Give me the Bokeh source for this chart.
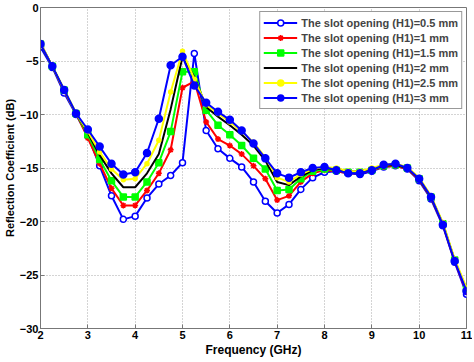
import numpy as np
from bokeh.plotting import figure
from bokeh.models import Range1d, FixedTicker
from bokeh.embed import file_html
from bokeh.resources import INLINE

freq = [2.0, 2.25, 2.5, 2.75, 3.0, 3.25, 3.5, 3.75, 4.0, 4.25, 4.5, 4.75, 5.0, 5.25,
        5.5, 5.75, 6.0, 6.25, 6.5, 6.75, 7.0, 7.25, 7.5, 7.75, 8.0, 8.25, 8.5, 8.75,
        9.0, 9.25, 9.5, 9.75, 10.0, 10.25, 10.5, 10.75, 11.0]

h1_05 = [-3.7, -5.6, -8.0, -10.0, -12.0, -14.8, -17.6, -19.8, -19.5, -17.8, -16.5, -15.7, -14.5, -4.3,
         -11.5, -13.2, -14.1, -14.9, -16.3, -18.1, -19.2, -18.4, -17.0, -15.9, -15.4, -15.3, -15.5, -15.6,
         -15.3, -14.9, -14.8, -15.1, -16.2, -17.9, -20.4, -23.8, -26.8]
h1_10 = [-3.4, -5.5, -7.8, -9.9, -12.2, -14.6, -16.9, -18.5, -18.5, -17.1, -15.5, -13.3, -7.5, -6.9,
         -10.7, -12.3, -12.9, -13.7, -14.8, -16.0, -18.0, -17.6, -16.3, -15.5, -15.2, -15.3, -15.5, -15.5,
         -15.2, -14.9, -14.8, -15.1, -16.1, -17.8, -20.3, -23.7, -26.6]
h1_15 = [-3.4, -5.5, -7.7, -9.9, -11.9, -14.2, -16.2, -17.7, -17.7, -16.3, -14.5, -11.6, -6.0, -6.0,
         -9.6, -11.0, -11.9, -12.9, -14.1, -15.1, -17.1, -17.0, -16.0, -15.3, -15.1, -15.2, -15.4, -15.4,
         -15.2, -14.8, -14.7, -15.0, -16.0, -17.7, -20.2, -23.6, -26.3]
h1_20 = [-3.4, -5.5, -7.7, -9.9, -11.7, -13.8, -15.5, -16.8, -16.8, -15.5, -13.7, -9.5, -4.6, -6.5,
         -9.3, -10.2, -11.0, -11.9, -12.9, -14.3, -16.3, -16.6, -15.8, -15.2, -15.0, -15.1, -15.3, -15.3,
         -15.1, -14.8, -14.7, -15.0, -16.0, -17.7, -20.2, -23.6, -26.4]
h1_25 = [-3.3, -5.5, -7.7, -9.9, -11.6, -13.5, -15.1, -16.1, -16.0, -14.6, -12.4, -7.9, -4.1, -6.7,
         -9.1, -9.9, -10.7, -11.6, -12.6, -14.0, -15.9, -16.3, -15.6, -15.1, -14.9, -15.0, -15.3, -15.3,
         -15.0, -14.7, -14.6, -14.9, -15.9, -17.6, -20.1, -23.5, -26.2]
h1_30 = [-3.4, -5.5, -7.7, -9.9, -11.4, -13.0, -14.6, -15.6, -15.4, -13.6, -10.4, -5.4, -4.6, -7.3,
         -8.9, -9.75, -10.5, -11.5, -12.7, -14.1, -15.5, -15.9, -15.4, -15.0, -14.9, -15.2, -15.5, -15.5,
         -15.2, -14.7, -14.6, -15.0, -16.0, -17.7, -20.3, -23.7, -26.5]

labels = ["The slot opening (H1)=0.5 mm", "The slot opening (H1)=1 mm",
          "The slot opening (H1)=1.5 mm", "The slot opening (H1)=2 mm",
          "The slot opening (H1)=2.5 mm", "The slot opening (H1)=3 mm"]
x_ticks = [2, 3, 4, 5, 6, 7, 8, 9, 10, 11]
y_ticks = [-30, -25, -20, -15, -10, -5, 0]

FONT = "Liberation Sans"

p = figure(width=472, height=359, output_backend="svg", toolbar_location=None,
           x_range=Range1d(2, 11), y_range=Range1d(-30, 0),
           min_border_left=4, min_border_right=6, min_border_top=7, min_border_bottom=2,
           background_fill_color="white", border_fill_color="white")

p.outline_line_color = "#777777"
p.outline_line_width = 1

for ax in (p.xaxis[0], p.yaxis[0]):
    ax.major_label_text_font = FONT
    ax.major_label_text_font_style = "bold"
    ax.major_label_text_font_size = "11px"
    ax.major_label_text_color = "black"
    ax.axis_label_text_font = FONT
    ax.axis_label_text_font_style = "bold"
    ax.axis_label_text_color = "black"
    ax.axis_line_color = "#777777"
    ax.major_tick_line_color = "#777777"
    ax.major_tick_in = 4
    ax.major_tick_out = 0
    ax.minor_tick_line_color = None
    ax.major_label_standoff = 2
    ax.axis_label_standoff = 1

p.xaxis.axis_label_text_font_size = "12px"
p.yaxis.axis_label_text_font_size = "11px"
p.xaxis.ticker = FixedTicker(ticks=x_ticks)
p.yaxis.ticker = FixedTicker(ticks=y_ticks)
p.xaxis.axis_label = "Frequency (GHz)"
p.yaxis.axis_label = "Reflection Coefficient (dB)"

p.grid.grid_line_color = "#a8a8a8"
p.grid.grid_line_dash = "1 2"
p.grid.grid_line_width = 1
p.xgrid.ticker = FixedTicker(ticks=x_ticks)
p.ygrid.ticker = FixedTicker(ticks=y_ticks)

series = [h1_05, h1_10, h1_15, h1_20, h1_25, h1_30]
colors = ["#0000ff", "#ff0000", "#00ff00", "#000000", "#ffff00", "#0000ff"]
markers = ["circle", "asterisk", "square", None, "circle", "circle"]
fills = ["white", "#ff0000", "#00ff00", None, "#ffff00", "#0000ff"]
sizes = [6, 6, 6, 0, 4, 7]

for ys, c, m, fc, s, lab in zip(series, colors, markers, fills, sizes, labels):
    p.line(freq, ys, line_color=c, line_width=2, legend_label=lab)
    if m is not None:
        p.scatter(freq, ys, marker=m, size=s, line_color=c, fill_color=fc,
                  line_width=1.5, legend_label=lab)

lg = p.legend[0]
lg.location = "top_right"
lg.margin = 4
lg.padding = 3
lg.spacing = 0
lg.glyph_width = 34
lg.glyph_height = 15
lg.label_height = 15
lg.label_standoff = 4
lg.label_text_font = FONT
lg.label_text_font_style = "bold"
lg.label_text_font_size = "11px"
lg.border_line_color = "#333333"
lg.border_line_width = 1
lg.background_fill_color = "white"
lg.background_fill_alpha = 1.0

open("out.html", "w").write(file_html(p, INLINE))
